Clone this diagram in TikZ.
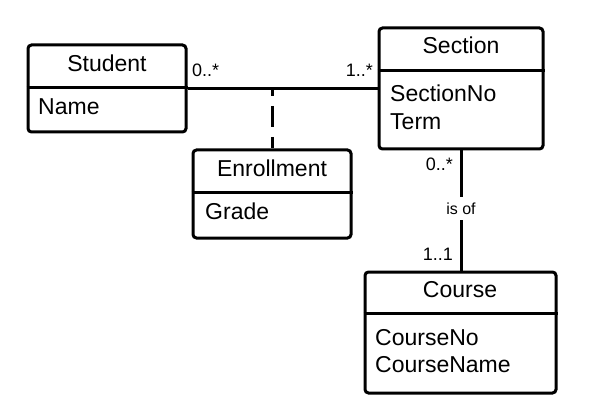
\documentclass[tikz,border=0pt]{standalone}
\usepackage{fontspec}
\setmainfont{Liberation Sans}
\begin{document}
\begin{tikzpicture}[x=1pt,y=-1pt,
  umlbox/.style={draw, line width=3pt, rounded corners=3.5pt, inner sep=0pt},
  divider/.style={line width=3pt},
  conn/.style={line width=3pt},
  dashconn/.style={line width=3pt, dash pattern=on 21pt off 10pt, dash phase=14pt},
  ttl/.style={inner sep=0pt, anchor=base, font=\fontsize{23}{27}\selectfont},
  attr/.style={inner sep=0pt, anchor=base west, font=\fontsize{23}{27}\selectfont},
  mult/.style={inner sep=0pt, font=\fontsize{18}{21}\selectfont},
  rolelbl/.style={inner sep=0pt, minimum height=23pt, font=\fontsize{16}{19}\selectfont}
]
\useasboundingbox (0,0) rectangle (590,420);
\fill[white] (0,0) rectangle (590,420);

% Student
\node[umlbox, minimum width=158pt, minimum height=87pt] (student) at (107,88.5) {};
\draw[divider] (student.west |- 0,88) -- (student.east |- 0,88);
\node[ttl] (studentT) at (107,72) {Student};
\node[attr] (studentA) at (38,115) {Name};

% Section
\node[umlbox, minimum width=164pt, minimum height=121pt] (section) at (461,88.5) {};
\draw[divider] (section.west |- 0,71) -- (section.east |- 0,71);
\node[ttl] (sectionT) at (461,54) {Section};
\node[attr] (sectionA1) at (390,101.5) {SectionNo};
\node[attr] (sectionA2) at (390,129) {Term};

% Enrollment
\node[umlbox, minimum width=158pt, minimum height=88pt] (enroll) at (272,194) {};
\draw[divider] (enroll.west |- 0,192) -- (enroll.east |- 0,192);
\node[ttl] (enrollT) at (272,176) {Enrollment};
\node[attr] (enrollA) at (205,219) {Grade};

% Course
\node[umlbox, minimum width=191pt, minimum height=121pt] (course) at (460.5,332.5) {};
\draw[divider] (course.west |- 0,313) -- (course.east |- 0,313);
\node[ttl] (courseT) at (460,297) {Course};
\node[attr] (courseA1) at (375,345) {CourseNo};
\node[attr] (courseA2) at (375,372) {CourseName};

% Student -- Section association
\draw[conn] (student.east |- 0,89) -- (section.west |- 0,89);
\coordinate (assoc) at (272,89);
\draw[dashconn] (assoc) -- (enroll.north);
\node[mult, anchor=base west] (m1) at (192,77) {0..*};
\node[mult, anchor=base east] (m2) at (373,77) {1..*};

% Section -- Course
\node[rolelbl] (isof) at (461,208.5) {is of};
\draw[conn] (section.south) -- (section.south |- isof.north);
\draw[conn] (isof.south) -- (section.south |- course.north);
\node[mult, anchor=base east] (m3) at (453,171) {0..*};
\node[mult, anchor=base east] (m4) at (453,260) {1..1};
\end{tikzpicture}
\end{document}
